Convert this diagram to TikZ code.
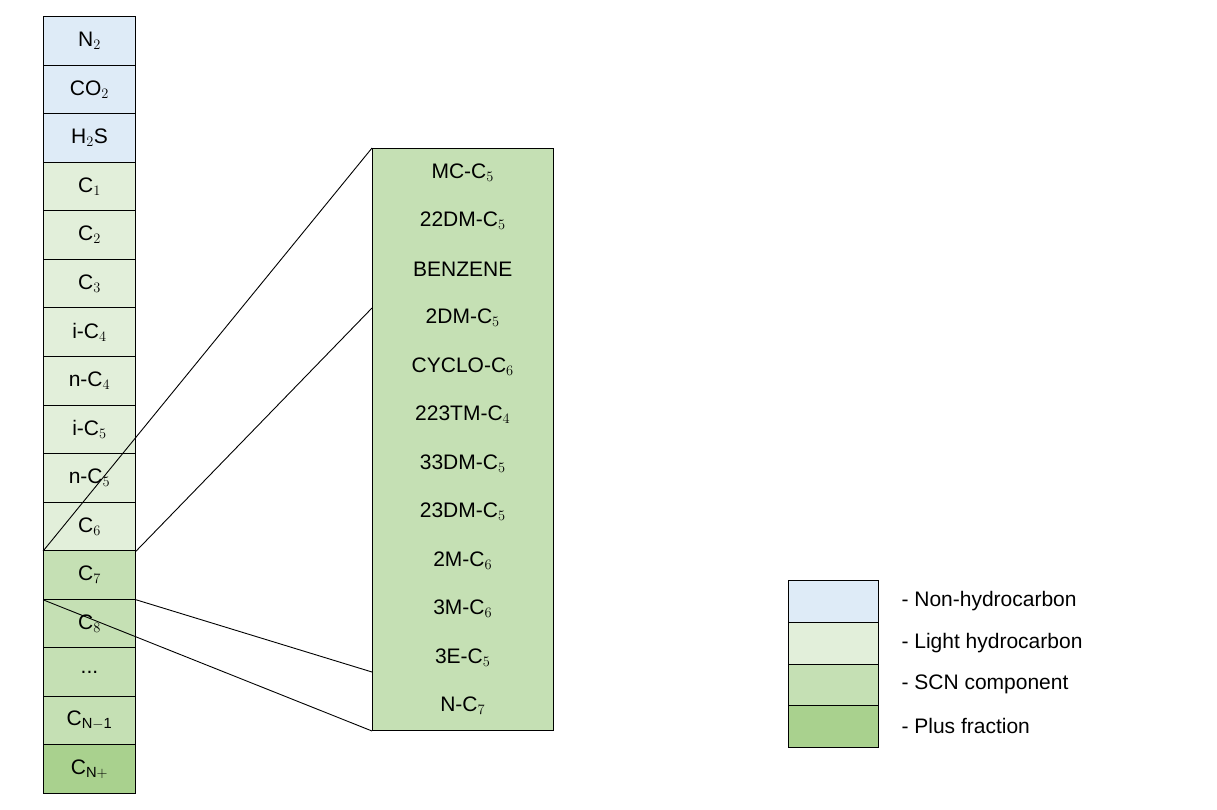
\documentclass[tikz,border=0pt]{standalone}
\usepackage{fontspec}
\setmainfont{Liberation Sans}
\definecolor{colA}{HTML}{DEEBF7}
\definecolor{colB}{HTML}{E2EFDA}
\definecolor{colC}{HTML}{C5E0B4}
\definecolor{colD}{HTML}{A9D18E}
\begin{document}
\begin{tikzpicture}[x=1pt,y=-1pt,
  cell/.style={draw=black,line width=1pt,minimum width=92pt,minimum height=48.56pt,inner sep=0pt,anchor=north west,font=\fontsize{21}{24}\selectfont},
  rcell/.style={minimum width=181pt,minimum height=48.5pt,inner sep=0pt,anchor=north west,font=\fontsize{21}{24}\selectfont},
  leg/.style={draw=black,line width=1pt,minimum width=90pt,minimum height=41.75pt,inner sep=0pt,anchor=north west},
  legt/.style={anchor=west,font=\fontsize{21}{24}\selectfont},
  conn/.style={draw=black,line width=0.9pt}]
\useasboundingbox (0,0) rectangle (1217,809);
\node[cell,fill=colA] (L0) at (43,16) {N$_2$};
\node[cell,fill=colA] (L1) at (43,64.56) {CO$_2$};
\node[cell,fill=colA] (L2) at (43,113.12) {H$_2$S};
\node[cell,fill=colB] (L3) at (43,161.69) {C$_1$};
\node[cell,fill=colB] (L4) at (43,210.25) {C$_2$};
\node[cell,fill=colB] (L5) at (43,258.81) {C$_3$};
\node[cell,fill=colB] (L6) at (43,307.37) {i-C$_4$};
\node[cell,fill=colB] (L7) at (43,355.94) {n-C$_4$};
\node[cell,fill=colB] (L8) at (43,404.5) {i-C$_5$};
\node[cell,fill=colB] (L9) at (43,453.06) {n-C$_5$};
\node[cell,fill=colB] (L10) at (43,501.62) {C$_6$};
\node[cell,fill=colC] (L11) at (43,550.19) {C$_7$};
\node[cell,fill=colC] (L12) at (43,598.75) {C$_8$};
\node[cell,fill=colC] (L13) at (43,647.31) {...};
\node[cell,fill=colC] (L14) at (43,695.87) {C$_{\mathrm{N-1}}$};
\node[cell,fill=colD] (L15) at (43,744.44) {C$_{\mathrm{N+}}$};
\node[draw=black,line width=1pt,fill=colC,minimum width=181pt,minimum height=582pt,inner sep=0pt,anchor=north west] (R) at (372,148) {};
\node[rcell] (R0) at (372,148) {MC-C$_5$};
\node[rcell] (R1) at (372,196.5) {22DM-C$_5$};
\node[rcell] (R2) at (372,245) {BENZENE};
\node[rcell] (R3) at (372,293.5) {2DM-C$_5$};
\node[rcell] (R4) at (372,342) {CYCLO-C$_6$};
\node[rcell] (R5) at (372,390.5) {223TM-C$_4$};
\node[rcell] (R6) at (372,439) {33DM-C$_5$};
\node[rcell] (R7) at (372,487.5) {23DM-C$_5$};
\node[rcell] (R8) at (372,536) {2M-C$_6$};
\node[rcell] (R9) at (372,584.5) {3M-C$_6$};
\node[rcell] (R10) at (372,633) {3E-C$_5$};
\node[rcell] (R11) at (372,681.5) {N-C$_7$};
\coordinate (p1) at (372,308);
\coordinate (p2) at (372,672);
\draw[conn] (L10.south west) -- (R.north west);
\draw[conn] (L10.south east) -- (p1);
\draw[conn] (L11.south east) -- (p2);
\draw[conn] (L11.south west) -- (R.south west);
\node[leg,fill=colA] (G0) at (788,580) {};
\node[leg,fill=colB] (G1) at (788,621.75) {};
\node[leg,fill=colC] (G2) at (788,663.5) {};
\node[leg,fill=colD] (G3) at (788,705.25) {};
\node[legt] (T0) at (898,601) {- Non-hydrocarbon};
\node[legt] (T1) at (898,642.75) {- Light hydrocarbon};
\node[legt] (T2) at (898,684.5) {- SCN component};
\node[legt] (T3) at (898,726.25) {- Plus fraction};
\end{tikzpicture}
\end{document}
